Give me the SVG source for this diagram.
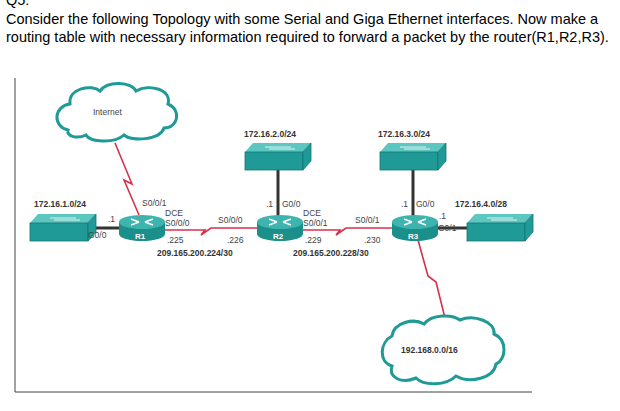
<svg xmlns="http://www.w3.org/2000/svg" width="620" height="411" viewBox="0 0 620 411">
<style>
.h{font-family:"Liberation Sans",Arial,sans-serif;font-size:14.5px;fill:#000}
.t{font-family:"Liberation Sans",Arial,sans-serif;font-size:8.5px;fill:#444}
.b{font-family:"Liberation Sans",Arial,sans-serif;font-size:8.5px;font-weight:bold;fill:#333}
.rl{font-family:"Liberation Sans",Arial,sans-serif;font-size:8px;font-weight:bold;fill:#fff}
.red{stroke:#d9304a;stroke-width:1.6;fill:none}
.blk{stroke:#333;stroke-width:3;fill:none}
.cloud{fill:#fff;stroke:#1f9a96;stroke-width:3}
.sw{fill:#1f9a96;stroke:#157673;stroke-width:0.8}
.swt{fill:#5cc6c0}
.rt{fill:#1b8f8a}
.rtop{fill:#3db5ae}
</style>
<defs>
<g id="router">
<rect class="rt" x="-23" y="-7" width="46" height="12"/>
<ellipse class="rt" cx="0" cy="5" rx="23" ry="7"/>
<ellipse class="rtop" cx="0" cy="-7" rx="23" ry="7"/>
<path d="M-11,-10 L-3,-7 M-11,-4 L-3,-7 M11,-10 L3,-7 M11,-4 L3,-7" stroke="#fff" stroke-width="1.5"/>
</g>
<g id="switch">
<polygon class="swt" points="8,0 66,0 58,9 0,9"/>
<rect class="sw" x="0" y="9" width="58" height="18"/>
<polygon class="sw" points="58,9 66,0 66,18 58,27"/>
<path d="M20,4 H46 M24,6 H50" stroke="#fff" stroke-width="0.8"/>
</g>
</defs>
<text class="h" x="6" y="5">Q5:</text>
<text class="h" x="6" y="24">Consider the following Topology with some Serial and Giga Ethernet interfaces. Now make a</text>
<text class="h" x="6" y="42">routing table with necessary information required to forward a packet by the router(R1,R2,R3).</text>
<path d="M15,78 V392 H532" stroke="#444" stroke-width="1" fill="none"/>
<g id="connectors">
<path class="red" d="M115,143 L132,184 L124,180 L139,215"/>
<path class="red" d="M165,230 H205 L201,235 L211,228 H257"/>
<path class="red" d="M303,230 H340 L336,235 L346,228 H392"/>
<path class="red" d="M418,240 L428,276 L436,282 L445,318"/>
<line class="blk" x1="95" y1="228" x2="120" y2="228"/>
<line class="blk" x1="278" y1="170" x2="278" y2="218"/>
<line class="blk" x1="413" y1="170" x2="413" y2="218"/>
<line class="blk" x1="436" y1="228" x2="468" y2="228"/>
</g>
<g id="internet">
<path class="cloud" d="M68,130 C52,126 54,106 70,104 C68,88 92,84 100,91 C108,80 132,82 136,91 C150,83 172,90 168,104 C182,110 178,128 164,128 C160,140 132,142 124,135 C114,144 90,142 86,135 C78,139 66,137 68,130 Z"/>
<text class="t" x="93" y="115" font-size="8">Internet</text>
</g>
<g id="lan1"><use href="#switch" x="30" y="214"/><text class="b" x="34" y="207">172.16.1.0/24</text></g>
<g id="lan2"><use href="#switch" x="245" y="143"/><text class="b" x="244" y="137">172.16.2.0/24</text></g>
<g id="lan3"><use href="#switch" x="380" y="143"/><text class="b" x="378" y="137">172.16.3.0/24</text></g>
<g id="lan4"><use href="#switch" x="467" y="214"/><text class="b" x="455" y="207">172.16.4.0/28</text></g>
<g id="r1"><use href="#router" x="142" y="229"/><text class="rl" x="135" y="239">R1</text></g>
<g id="r2"><use href="#router" x="280" y="229"/><text class="rl" x="273" y="239">R2</text></g>
<g id="r3"><use href="#router" x="415" y="229"/><text class="rl" x="408" y="239">R3</text></g>
<g id="isp">
<path class="cloud" d="M392,366 C378,362 380,342 392,336 C394,322 414,318 424,324 C432,314 452,314 460,320 C474,314 496,322 494,334 C508,340 506,360 496,364 C494,378 470,384 456,376 C446,386 424,386 416,378 C402,384 388,378 392,366 Z"/>
<text class="b" x="401" y="353">192.168.0.0/16</text>
</g>
<g id="labels">
<text class="t" x="142" y="206">S0/0/1</text>
<text class="t" x="165" y="216">DCE</text>
<text class="t" x="165" y="226">S0/0/0</text>
<text class="t" x="167" y="243">.225</text>
<text class="t" x="218" y="223">S0/0/0</text>
<text class="t" x="227" y="243">.226</text>
<text class="b" x="157" y="256">209.165.200.224/30</text>
<text class="t" x="108" y="222">.1</text>
<text class="t" x="88" y="238">G0/0</text>
<text class="t" x="266" y="207">.1</text>
<text class="t" x="282" y="207">G0/0</text>
<text class="t" x="303" y="216">DCE</text>
<text class="t" x="303" y="226">S0/0/1</text>
<text class="t" x="305" y="243">.229</text>
<text class="t" x="355" y="223">S0/0/1</text>
<text class="t" x="364" y="243">.230</text>
<text class="b" x="293" y="256">209.165.200.228/30</text>
<text class="t" x="401" y="207">.1</text>
<text class="t" x="416" y="207">G0/0</text>
<text class="t" x="439" y="219">.1</text>
<text class="t" x="438" y="231">G0/1</text>
</g>
</svg>
